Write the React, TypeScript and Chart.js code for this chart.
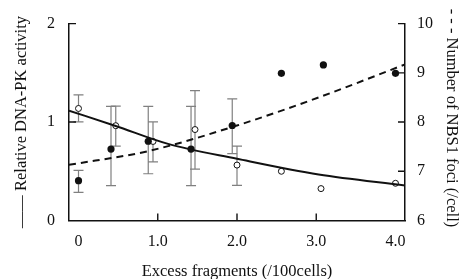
import React, { useEffect, useRef } from "react";
import { Chart, registerables } from "chart.js";

Chart.register(...registerables);

// Excess fragments per 100 cells
const xTickValues = [0, 1, 2, 3, 4];
const xTickLabels = ["0", "1.0", "2.0", "3.0", "4.0"];

// Number of NBS1 foci per cell (filled circles, right axis)
const fociX = [0, 0.41, 0.88, 1.42, 1.94, 2.56, 3.09, 4.0];
const fociY = [6.81, 7.45, 7.61, 7.45, 7.93, 8.99, 9.16, 8.99];
const fociHigh = [7.02, 8.32, 8.32, 8.32, 8.47, null, null, null];
const fociLow = [6.57, 6.71, 6.95, 6.71, 7.36, null, null, null];

// Relative DNA-PK activity (open circles, left axis)
const activityX = [0, 0.47, 0.94, 1.47, 2.0, 2.56, 3.06, 4.0];
const activityY = [1.138, 0.963, 0.803, 0.924, 0.563, 0.5, 0.324, 0.378];
const activityHigh = [1.276, 1.161, 1.001, 1.32, 0.755, null, null, null];
const activityLow = [1.001, 0.755, 0.596, 0.522, 0.356, null, null, null];

// Fitted trend curves
const activityFitX = [-0.12, 0.46, 1.13, 2.0, 3.03, 4.12];
const activityFitY = [1.116, 0.963, 0.778, 0.627, 0.467, 0.356];
const fociFitX = [-0.12, 0.88, 2.0, 3.03, 4.12];
const fociFitY = [7.13, 7.41, 7.93, 8.5, 9.17];

const SERIF = '"Liberation Serif", "Times New Roman", serif';
const INK = "#111";
const BAR = "#808080";

const pts = (xs: number[], ys: number[]) => xs.map((x, i) => ({ x, y: ys[i] }));

const errorBars = {
  id: "errorBars",
  beforeDatasetsDraw(chart: any) {
    const { ctx } = chart;
    const xs = chart.scales.x;
    const cap = 5;
    ctx.save();
    ctx.strokeStyle = BAR;
    ctx.lineWidth = 1.2;
    chart.data.datasets.forEach((ds: any) => {
      if (!ds.errHigh) return;
      const ys = chart.scales[ds.yAxisID];
      ds.data.forEach((p: any, j: number) => {
        const hi = ds.errHigh[j];
        const lo = ds.errLow[j];
        if (hi == null || lo == null) return;
        const px = xs.getPixelForValue(p.x);
        const py1 = ys.getPixelForValue(hi);
        const py2 = ys.getPixelForValue(lo);
        ctx.beginPath();
        ctx.moveTo(px, py1);
        ctx.lineTo(px, py2);
        ctx.moveTo(px - cap, py1);
        ctx.lineTo(px + cap, py1);
        ctx.moveTo(px - cap, py2);
        ctx.lineTo(px + cap, py2);
        ctx.stroke();
      });
    });
    ctx.restore();
  },
};

// Tick marks pointing into the plot area
const innerTicks = {
  id: "innerTicks",
  afterDraw(chart: any) {
    const { ctx, chartArea, scales } = chart;
    const len = 7;
    ctx.save();
    ctx.strokeStyle = INK;
    ctx.lineWidth = 1.4;
    ctx.beginPath();
    const xt = scales.x.ticks;
    xt.slice(1, xt.length - 1).forEach((t: any) => {
      const px = scales.x.getPixelForValue(t.value);
      ctx.moveTo(px, chartArea.bottom);
      ctx.lineTo(px, chartArea.bottom - len);
    });
    scales.y.ticks.slice(1).forEach((t: any) => {
      const py = scales.y.getPixelForValue(t.value);
      ctx.moveTo(chartArea.left, py);
      ctx.lineTo(chartArea.left + len, py);
    });
    scales.y2.ticks.slice(1).forEach((t: any) => {
      const py = scales.y2.getPixelForValue(t.value);
      ctx.moveTo(chartArea.right, py);
      ctx.lineTo(chartArea.right - len, py);
    });
    ctx.stroke();
    ctx.restore();
  },
};

export default function App() {
  const ref = useRef<HTMLCanvasElement | null>(null);

  useEffect(() => {
    if (!ref.current) return;
    const chart = new Chart(ref.current, {
      type: "scatter",
      data: {
        datasets: [
          {
            label: "DNA-PK fit",
            data: pts(activityFitX, activityFitY),
            yAxisID: "y",
            showLine: true,
            borderColor: INK,
            borderWidth: 2,
            pointRadius: 0,
            cubicInterpolationMode: "monotone",
          },
          {
            label: "NBS1 fit",
            data: pts(fociFitX, fociFitY),
            yAxisID: "y2",
            showLine: true,
            borderColor: INK,
            borderWidth: 2,
            borderDash: [7, 5],
            pointRadius: 0,
            cubicInterpolationMode: "monotone",
          },
          {
            label: "NBS1 foci",
            data: pts(fociX, fociY),
            yAxisID: "y2",
            pointRadius: 3.6,
            pointBackgroundColor: INK,
            pointBorderColor: INK,
            pointBorderWidth: 0,
            errHigh: fociHigh,
            errLow: fociLow,
          } as any,
          {
            label: "DNA-PK activity",
            data: pts(activityX, activityY),
            yAxisID: "y",
            pointRadius: 3,
            pointBackgroundColor: "#fff",
            pointBorderColor: INK,
            pointBorderWidth: 1,
            errHigh: activityHigh,
            errLow: activityLow,
          } as any,
        ],
      },
      options: {
        animation: false,
        responsive: true,
        maintainAspectRatio: false,
        layout: { padding: { top: 11.5, left: 0, right: 0, bottom: 0 } },
        plugins: { legend: { display: false }, tooltip: { enabled: false } },
        scales: {
          x: {
            type: "linear",
            position: "bottom",
            min: -0.12,
            max: 4.12,
            afterBuildTicks: (s: any) => {
              s.ticks = xTickValues.map((v) => ({ value: v }));
            },
            afterFit: (s: any) => {
              s.height = 58.5;
            },
            grid: { drawOnChartArea: false, drawTicks: false },
            border: { display: true, color: INK, width: 1.5 },
            ticks: {
              padding: 12,
              color: INK,
              font: { family: SERIF, size: 16 },
              callback: (v: any) => xTickLabels[xTickValues.indexOf(Number(v))] ?? "",
            },
            title: {
              display: true,
              text: "Excess fragments (/100cells)",
              color: INK,
              font: { family: SERIF, size: 16.5, lineHeight: 1 },
              padding: { top: 0, bottom: -1 },
            },
          },
          y: {
            type: "linear",
            position: "left",
            min: 0,
            max: 2,
            ticks: {
              stepSize: 1,
              padding: 14,
              color: INK,
              font: { family: SERIF, size: 16 },
            },
            afterFit: (s: any) => {
              s.width = 69;
            },
            grid: { drawOnChartArea: false, drawTicks: false },
            border: { display: true, color: INK, width: 1.5 },
            title: {
              display: true,
              text: "—— Relative DNA-PK activity",
              color: INK,
              font: { family: SERIF, size: 16.5 },
              padding: { top: 12, bottom: 0 },
            },
          },
          y2: {
            type: "linear",
            position: "right",
            min: 6,
            max: 10,
            ticks: {
              stepSize: 1,
              padding: 12,
              color: INK,
              font: { family: SERIF, size: 16 },
            },
            afterFit: (s: any) => {
              s.width = 69;
            },
            grid: { drawOnChartArea: false, drawTicks: false },
            border: { display: true, color: INK, width: 1.5 },
            title: {
              display: true,
              text: "- - - Number of NBS1 foci (/cell)  ",
              color: INK,
              font: { family: SERIF, size: 16.5 },
              padding: { top: 13, bottom: 0 },
            },
          },
        },
      },
      plugins: [errorBars, innerTicks],
    });
    return () => chart.destroy();
  }, []);

  return (
    <div style={{ position: "fixed", left: 0, top: 0, width: 474, height: 279, background: "#fff" }}>
      <canvas ref={ref} />
    </div>
  );
}
